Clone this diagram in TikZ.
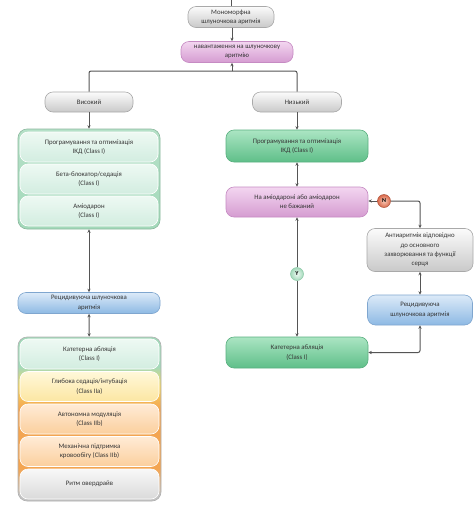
\documentclass[tikz,border=0pt]{standalone}
\usepackage{fontspec}
\setmainfont{Carlito}
\usetikzlibrary{arrows.meta}

\definecolor{txt}{HTML}{353535}
\definecolor{linec}{HTML}{555555}
\definecolor{graytop}{HTML}{FBFBFB}
\definecolor{graybot}{HTML}{C9C9C9}
\definecolor{grayline}{HTML}{A9A9A9}
\definecolor{pinktop}{HTML}{F3D6F0}
\definecolor{pinkbot}{HTML}{D59CD1}
\definecolor{pinkline}{HTML}{C68BC3}
\definecolor{greentop}{HTML}{ABE5C3}
\definecolor{greenbot}{HTML}{5FBF89}
\definecolor{greenline}{HTML}{5AB080}
\definecolor{bluetop}{HTML}{DCEAF8}
\definecolor{bluebot}{HTML}{8DB9E4}
\definecolor{blueline}{HTML}{7FA6CF}
\definecolor{minttop}{HTML}{EEF9F3}
\definecolor{mintbot}{HTML}{D2EDE0}
\definecolor{yeltop}{HTML}{FFF8DA}
\definecolor{yelbot}{HTML}{FCE6A2}
\definecolor{ortop}{HTML}{FFEBD6}
\definecolor{orbot}{HTML}{FBCF9D}
\definecolor{ltgtop}{HTML}{F8F8F8}
\definecolor{ltgbot}{HTML}{DADADA}
\definecolor{frgreen}{HTML}{A3D9BA}
\definecolor{fryel}{HTML}{F6D65E}
\definecolor{fror}{HTML}{F3A552}
\definecolor{frgray}{HTML}{C4C4C4}
\definecolor{notop}{HTML}{F8C9B6}
\definecolor{nobot}{HTML}{D9694B}

\pgfdeclareverticalshading{ladder}{100bp}{color(0bp)=(frgray); color(27bp)=(frgray);
  color(35bp)=(fror); color(53bp)=(fror); color(60bp)=(fryel); color(66bp)=(frgreen);
  color(75bp)=(frgreen); color(100bp)=(frgreen)}

\begin{document}
\begin{tikzpicture}[x=1pt, y=-1pt,
    font=\fontsize{6.8}{9.3}\selectfont,
    wh/.style 2 args={minimum width=#1pt, minimum height=#2pt},
    box/.style={rounded corners=8pt, align=center, inner sep=1pt, text=txt, line width=0.6pt},
    graybox/.style={box, draw=grayline, top color=graytop, bottom color=graybot},
    pinkbox/.style={box, draw=pinkline, top color=pinktop, bottom color=pinkbot},
    greenbox/.style={box, draw=greenline, top color=greentop, bottom color=greenbot},
    bluebox/.style={box, draw=blueline, top color=bluetop, bottom color=bluebot},
    mintbox/.style={box, draw=white, top color=minttop, bottom color=mintbot},
    yelbox/.style={box, draw=white, top color=yeltop, bottom color=yelbot},
    orbox/.style={box, draw=white, top color=ortop, bottom color=orbot},
    ltgbox/.style={box, draw=white, top color=ltgtop, bottom color=ltgbot},
    frame/.style={rounded corners=9pt, inner sep=0pt, line width=0.6pt},
    ynball/.style={circle, inner sep=0pt, minimum size=13pt, line width=0.5pt,
      font=\fontsize{6}{6}\selectfont\bfseries},
    link/.style={draw=linec, line width=1pt, rounded corners=2pt},
    arr/.style={link, -{Stealth[length=3.5pt,width=3.2pt]}},
    both/.style={link, {Stealth[length=3.5pt,width=3.2pt]}-{Stealth[length=3.5pt,width=3.2pt]}}]

    \useasboundingbox[fill=white] (0,0) rectangle (474,512);

    % --- top ---
    \node[graybox, wh={86}{21}] (mono) at (231,17) {Мономорфна\\шлуночкова аритмія};
    \node[pinkbox, wh={112}{21}] (load) at (237,52) {навантаження на шлуночкову\\аритмію};
    \node[graybox, wh={88}{20}] (high) at (89,102) {Високий};
    \node[graybox, wh={89}{20}] (low) at (297,102) {Низький};

    % --- left column ---
    \node[frame, wh={142}{100}, draw=frgreen!85!black, top color=frgreen!80, bottom color=frgreen] (grpA) at (89,179) {};
    \node[mintbox, wh={138}{30}] (a1) at (89,147) {Програмування та оптимізація\\ІКД (Class I)};
    \node[mintbox, wh={138}{30}] (a2) at (89,179) {Бета-блокатор/седація\\(Class I)};
    \node[mintbox, wh={138}{30}] (a3) at (89,211) {Аміодарон\\(Class I)};
    \node[bluebox, wh={142}{21}] (recA) at (89,303) {Рецидивуюча шлуночкова\\аритмія};
    \node[frame, wh={143}{164}, draw=frgray!90!black, shading=ladder] (grpB) at (89.5,419) {};
    \node[mintbox, wh={139}{30}] (b1) at (89.5,354) {Катетерна абляція\\(Class I)};
    \node[yelbox, wh={139}{30}] (b2) at (89.5,386.5) {Глибока седація/інтубація\\(Class IIa)};
    \node[orbox, wh={139}{30}] (b3) at (89.5,419) {Автономна модуляція\\(Class IIb)};
    \node[orbox, wh={139}{30}] (b4) at (89.5,451.5) {Механічна підтримка\\кровообігу (Class IIb)};
    \node[ltgbox, wh={139}{30}] (b5) at (89.5,484) {Ритм овердрайв};

    % --- right column ---
    \node[greenbox, wh={142}{32}] (icdR) at (297,146) {Програмування та оптимізація\\ІКД (Class I)};
    \node[pinkbox, wh={142}{30}] (amioR) at (297,202) {На аміодароні або аміодарон\\не бажаний};
    \node[ynball, draw=nobot!80!black, inner color=notop, outer color=nobot] (no) at (384,201) {N};
    \node[graybox, wh={106}{43}] (anti) at (420,250) {Антиаритмік відповідно\\до основного\\захворювання та функції\\серця};
    \node[bluebox, wh={105}{30}] (recR) at (420,310) {Рецидивуюча\\шлуночкова аритмія};
    \node[greenbox, wh={142}{31}] (ablR) at (297,352.5) {Катетерна абляція\\(Class I)};
    \node[ynball, draw=greenline!70, inner color=minttop, outer color=frgreen] (yes) at (297,274) {Y};

    % --- connectors ---
    \coordinate (entry) at (231,0);
    \coordinate (fork) at (232,71);
    \draw[link] (entry) -- (mono);
    \draw[arr] (mono.south -| 232,0) -- (load.north -| 232,0);
    \draw[arr] (fork) -- (fork |- load.south);
    \draw[link] (fork) -| (high);
    \draw[link] (fork) -| (low);
    \draw[arr] (high) -- (grpA);
    \draw[both] (grpA) -- (recA);
    \draw[both] (recA) -- (grpB);
    \draw[arr] (low) -- (icdR);
    \draw[both] (icdR) -- (amioR);
    \draw[arr] (yes) -- (amioR);
    \draw[arr] (yes) -- (ablR);
    \draw[arr] (no) -- (no -| amioR.east);
    \draw[arr] (no) -| (anti);
    \draw[both] (anti) -- (recR);
    \draw[both] (recR) |- (ablR);
\end{tikzpicture}
\end{document}
